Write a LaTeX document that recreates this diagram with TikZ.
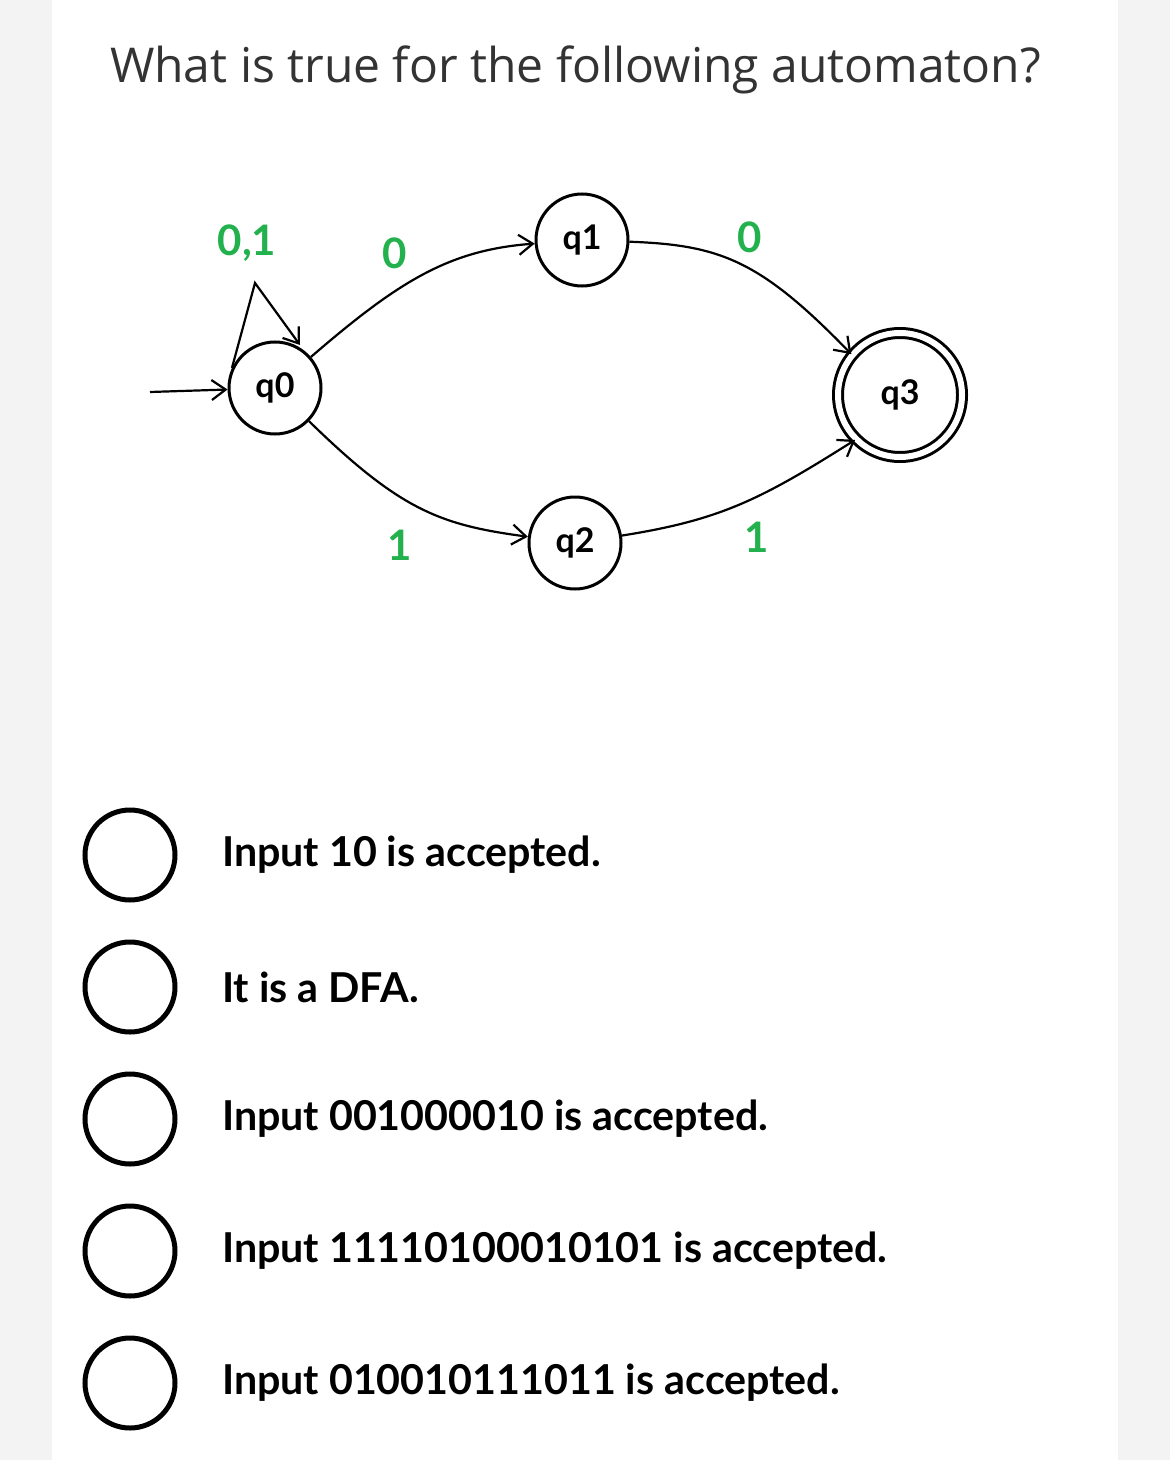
\documentclass[tikz,border=0pt]{standalone}
\usepackage{fontspec}
\setmainfont{Lato}
\newfontfamily\titlefont{Open Sans}
\usetikzlibrary{arrows.meta}
\definecolor{pgreen}{HTML}{22B14C}
\definecolor{bggray}{HTML}{F3F3F3}
\begin{document}
\begin{tikzpicture}[x=0.5pt,y=-0.5pt,
  st/.style={circle,draw,line width=1.5pt,minimum size=46pt,inner sep=0pt,font=\bfseries\fontsize{17}{17}\selectfont},
  lbl/.style={text=pgreen,font=\bfseries\fontsize{21}{21}\selectfont},
  ed/.style={line width=1.1pt,-{Straight Barb[length=7pt,width=10pt]}},
  radio/.style={circle,draw,line width=2.5pt,minimum size=45pt,inner sep=0pt},
  opt/.style={anchor=west,font=\bfseries\fontsize{20.6}{24}\selectfont}]
\useasboundingbox (0,0) rectangle (1170,1460);
\fill[bggray] (0,0) rectangle (1170,1460);
\fill[white] (52,0) rectangle (1118,1460);
\node[anchor=west,font=\titlefont\fontsize{24}{28}\selectfont,text=black!80] (title) at (103,70) {What is true for the following automaton?};
\node[st] (q0) at (275,388) {q0};
\node[st] (q1) at (582,240) {q1};
\node[st] (q2) at (575,543) {q2};
\node[st,minimum size=62pt,double,double distance=3pt] (q3) at (900,395) {q3};
\coordinate (s) at (150,392);
\coordinate (lp) at (255,283);
\draw[ed] (q0.155) -- (lp) -- (300,345);
\draw[ed] (q0) .. controls (400,280) and (450,250) .. (q1);
\draw[ed] (q1) .. controls (720,245) and (760,260) .. (q3.140);
\draw[ed] (q0) .. controls (400,510) and (440,525) .. (q2);
\draw[ed] (q2) .. controls (720,520) and (760,500) .. (q3.-135);
\draw[ed] (s) -- (q0);
\node[lbl] (l1) at (247,243) {0,1};
\node[lbl] (l2) at (395,253) {0};
\node[lbl] (l3) at (750,237) {0};
\node[lbl] (l4) at (400,545) {1};
\node[lbl] (l5) at (757,537) {1};
\foreach \y/\t [count=\i] in {855/Input 10 is accepted., 987/It is a DFA., 1119/Input 001000010 is accepted., 1251/Input 11110100010101 is accepted., 1383/Input 010010111011 is accepted.}{
  \node[radio] (r\i) at (130,\y) {};
  \node[opt] (o\i) at (215,\y) {\t};
}
\end{tikzpicture}
\end{document}
